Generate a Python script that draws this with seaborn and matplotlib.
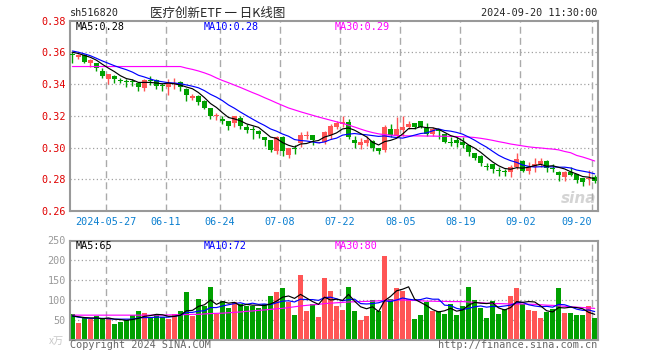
import matplotlib
matplotlib.use('Agg')
import numpy as np
import matplotlib.pyplot as plt
import seaborn as sns

# ---- data (sh516820, 2024-05-17 .. 2024-09-20) ----
tick_idx = [6, 16, 25, 35, 45, 55, 65, 75, 87]
tick_labels = ['2024-05-27', '06-11', '06-24', '07-08', '07-22',
               '08-05', '08-19', '09-02', '09-20']

opens = [0.358, 0.357, 0.358, 0.3535, 0.353, 0.348, 0.343, 0.345, 0.3425, 0.342,
         0.3415, 0.3406, 0.3375, 0.3425, 0.3425, 0.339, 0.3381, 0.3402, 0.341, 0.337,
         0.3313, 0.3327, 0.3296, 0.3246, 0.320, 0.318, 0.3167, 0.3153, 0.3184, 0.3132,
         0.311, 0.3105, 0.3063, 0.3046, 0.2979, 0.3065, 0.2952, 0.2992, 0.3031, 0.3075,
         0.3077, 0.3029, 0.3033, 0.3077, 0.3128, 0.3146, 0.3163, 0.3046, 0.3018, 0.3029,
         0.3042, 0.2998, 0.2982, 0.3115, 0.3072, 0.3108, 0.3132, 0.3152, 0.3165, 0.3125,
         0.3088, 0.3108, 0.3083, 0.3033, 0.3046, 0.3035, 0.3015, 0.2965, 0.2948, 0.2881,
         0.2896, 0.2852, 0.2846, 0.2848, 0.2879, 0.2913, 0.285, 0.2875, 0.2896, 0.2917,
         0.2867, 0.2848, 0.2817, 0.2848, 0.2833, 0.2806, 0.2800, 0.2815]
highs = [0.360, 0.359, 0.359, 0.356, 0.3535, 0.350, 0.3465, 0.3456, 0.344, 0.343,
         0.343, 0.341, 0.343, 0.345, 0.3433, 0.3406, 0.343, 0.344, 0.3417, 0.3375,
         0.3334, 0.3333, 0.330, 0.325, 0.3219, 0.320, 0.317, 0.320, 0.320, 0.315,
         0.3136, 0.311, 0.3065, 0.305, 0.3075, 0.307, 0.300, 0.3015, 0.3098, 0.3104,
         0.308, 0.3035, 0.3104, 0.3146, 0.3167, 0.3198, 0.3177, 0.3073, 0.3058, 0.3073,
         0.305, 0.300, 0.314, 0.3146, 0.319, 0.3196, 0.317, 0.3155, 0.317, 0.3152,
         0.3131, 0.3119, 0.3085, 0.3063, 0.3063, 0.3063, 0.3017, 0.2967, 0.295, 0.2902,
         0.2898, 0.2875, 0.2865, 0.289, 0.2965, 0.292, 0.2906, 0.2931, 0.2931, 0.2919,
         0.2896, 0.285, 0.285, 0.2875, 0.2835, 0.2808, 0.2856, 0.2825]
lows = [0.353, 0.356, 0.353, 0.351, 0.348, 0.344, 0.340, 0.3406, 0.3405, 0.338,
        0.339, 0.3354, 0.3358, 0.3396, 0.337, 0.3354, 0.333, 0.337, 0.3354, 0.329,
        0.330, 0.327, 0.324, 0.3177, 0.3173, 0.3147, 0.3109, 0.3126, 0.3115, 0.3094,
        0.3052, 0.3057, 0.3012, 0.2969, 0.2958, 0.2948, 0.2931, 0.2958, 0.3003, 0.3052,
        0.3015, 0.3026, 0.302, 0.3052, 0.3115, 0.3131, 0.3052, 0.300, 0.299, 0.301,
        0.2979, 0.2958, 0.2973, 0.3063, 0.3063, 0.3073, 0.3119, 0.3115, 0.312, 0.3073,
        0.3073, 0.3056, 0.3027, 0.301, 0.3006, 0.300, 0.2944, 0.2923, 0.2881, 0.286,
        0.284, 0.2823, 0.2819, 0.2813, 0.2865, 0.2844, 0.2833, 0.2848, 0.2875, 0.2848,
        0.2844, 0.2792, 0.2792, 0.2819, 0.2775, 0.276, 0.2763, 0.2777]
closes = [0.358, 0.358, 0.354, 0.355, 0.350, 0.345, 0.346, 0.343, 0.342, 0.341,
          0.341, 0.338, 0.3427, 0.342, 0.339, 0.3385, 0.3406, 0.3406, 0.338, 0.333,
          0.3327, 0.3285, 0.3246, 0.3198, 0.3202, 0.3165, 0.3136, 0.3199, 0.3136, 0.311,
          0.3108, 0.3084, 0.3046, 0.2983, 0.3063, 0.2979, 0.300, 0.299, 0.3077, 0.3079,
          0.3046, 0.3032, 0.3098, 0.3135, 0.3154, 0.3163, 0.3063, 0.3029, 0.3034, 0.305,
          0.2997, 0.2979, 0.3131, 0.3078, 0.3114, 0.3127, 0.3151, 0.3131, 0.3131, 0.3088,
          0.3119, 0.3104, 0.3035, 0.3031, 0.3031, 0.3015, 0.2969, 0.2933, 0.290, 0.2879,
          0.2865, 0.285, 0.2844, 0.2879, 0.2927, 0.285, 0.2879, 0.2896, 0.2917, 0.2869,
          0.2865, 0.2827, 0.2848, 0.2827, 0.2798, 0.2785, 0.2806, 0.2792]

ma5 = [0.360, 0.3592, 0.358, 0.3568, 0.355, 0.3524, 0.350, 0.3478, 0.3452, 0.3434,
       0.3426, 0.341, 0.341, 0.341, 0.3406, 0.3401, 0.3406, 0.3401, 0.3393, 0.3381,
       0.337, 0.3346, 0.3314, 0.3277, 0.3252, 0.3219, 0.3189, 0.318, 0.3168, 0.3149,
       0.3138, 0.3127, 0.3097, 0.3066, 0.3057, 0.3031, 0.3014, 0.3003, 0.3022, 0.3025,
       0.3038, 0.3044, 0.3066, 0.3077, 0.3092, 0.3117, 0.3123, 0.3109, 0.3088, 0.3067,
       0.3033, 0.3016, 0.3037, 0.3045, 0.3058, 0.3085, 0.3119, 0.3119, 0.3131, 0.3125,
       0.3124, 0.3115, 0.3095, 0.3075, 0.3064, 0.3043, 0.3016, 0.2996, 0.297, 0.2939,
       0.2909, 0.2885, 0.2868, 0.2863, 0.2873, 0.287, 0.2876, 0.2886, 0.2894, 0.2882,
       0.2885, 0.2875, 0.2865, 0.2847, 0.2833, 0.2817, 0.2813, 0.2802]
ma10 = [0.3608, 0.360, 0.359, 0.3578, 0.3562, 0.3545, 0.353, 0.3515, 0.3502, 0.349,
        0.3475, 0.3455, 0.3444, 0.3431, 0.342, 0.3414, 0.3408, 0.3406, 0.3402, 0.3394,
        0.3386, 0.3376, 0.3358, 0.3335, 0.3317, 0.3295, 0.3268, 0.3247, 0.3223, 0.3201,
        0.3179, 0.3158, 0.3139, 0.3117, 0.3103, 0.3085, 0.3071, 0.305, 0.3044, 0.3041,
        0.3035, 0.3029, 0.3035, 0.305, 0.3059, 0.3078, 0.3084, 0.3088, 0.3083, 0.308,
        0.3075, 0.307, 0.3073, 0.3067, 0.3063, 0.3059, 0.3068, 0.3078, 0.3088, 0.3092,
        0.3105, 0.3117, 0.3107, 0.3103, 0.3095, 0.3084, 0.3066, 0.3046, 0.3023, 0.3002,
        0.2976, 0.2951, 0.2932, 0.2917, 0.2906, 0.289, 0.2881, 0.2877, 0.2879, 0.2878,
        0.2878, 0.2876, 0.2876, 0.2871, 0.2858, 0.2851, 0.2844, 0.2834]
ma30 = [0.351] * 19 + [
        0.350, 0.3492, 0.3482, 0.347, 0.3456, 0.3438, 0.3422, 0.3408, 0.3393, 0.3378,
        0.3362, 0.3346, 0.3331, 0.3314, 0.3298, 0.3281, 0.3265, 0.3249, 0.3237, 0.3225,
        0.3214, 0.3203, 0.3192, 0.3182, 0.3172, 0.3162, 0.3152, 0.3141, 0.3129, 0.3116,
        0.3104, 0.3094, 0.3086, 0.3081, 0.3078, 0.3076, 0.3074, 0.3073, 0.3073, 0.3073,
        0.3072, 0.3072, 0.3071, 0.3071, 0.307, 0.3069, 0.3068, 0.3066, 0.3063, 0.3058,
        0.3052, 0.3045, 0.3037, 0.303, 0.3022, 0.3016, 0.301, 0.3004, 0.300, 0.2997,
        0.2993, 0.299, 0.2985, 0.2975, 0.2967, 0.295, 0.294, 0.2928, 0.2915]

volumes = [66, 44, 55, 53, 61, 55, 57, 41, 47, 51,
           63, 73, 68, 57, 63, 59, 53, 66, 73, 121,
           62, 103, 86, 133, 65, 98, 82, 95, 91, 86,
           86, 82, 92, 111, 121, 132, 97, 63, 163, 73,
           90, 59, 157, 124, 86, 76, 133, 73, 51, 61,
           101, 73, 211, 103, 131, 123, 103, 53, 63, 95,
           73, 73, 66, 91, 63, 86, 133, 101, 82, 57,
           98, 66, 78, 111, 131, 91, 76, 73, 57, 71,
           78, 131, 68, 68, 63, 63, 86, 56]
vol_ma5 = [61, 59, 57, 56, 56, 54, 56, 53, 52, 50,
           52, 55, 60, 62, 65, 64, 60, 60, 63, 74,
           75, 85, 89, 101, 90, 97, 93, 95, 86, 90,
           88, 88, 87, 91, 98, 108, 111, 105, 115, 106,
           97, 90, 108, 101, 103, 100, 115, 98, 84, 79,
           84, 72, 99, 110, 124, 128, 134, 103, 95, 87,
           77, 71, 74, 80, 73, 76, 88, 95, 93, 92,
           94, 81, 76, 82, 97, 95, 97, 96, 86, 74,
           71, 82, 81, 83, 82, 79, 70, 65]
vol_ma10 = [61, 58, 56, 55, 55, 55, 54, 53, 53, 53,
            53, 56, 57, 57, 58, 58, 58, 60, 63, 70,
            70, 73, 74, 82, 82, 86, 89, 92, 94, 90,
            93, 90, 91, 89, 94, 98, 99, 96, 103, 102,
            102, 100, 107, 108, 104, 99, 102, 103, 92, 91,
            92, 94, 99, 97, 101, 106, 103, 101, 102, 106,
            103, 103, 88, 87, 80, 77, 80, 84, 86, 83,
            85, 84, 86, 88, 94, 95, 89, 86, 84, 85,
            83, 90, 89, 84, 78, 75, 76, 72]
vol_ma30 = [63] * 16 + [
            63.5, 64, 64, 64.5, 65, 65, 66, 67, 67.5, 68,
            69, 70, 71, 72.5, 73.5, 75, 76, 77.5, 79, 80,
            82, 84, 86, 87.5, 89, 90, 92, 93, 94, 95,
            96, 96.5, 97, 97.5, 98, 99, 100, 100.5, 101, 101,
            100.5, 100, 99, 98, 98, 97.5, 97.5, 97, 97, 97,
            96, 95, 94, 93, 92, 92, 91.5, 91, 91, 91,
            90.5, 90, 89, 88, 87.5, 86.5, 85, 84, 83, 82, 81, 80]

UP = '#ff5555'
DOWN = '#00a000'
GRID = '#a0a0a0'
MONO = 'DejaVu Sans Mono'
CJK = ['Noto Sans CJK SC', 'DejaVu Sans']


def style_panel(ax, yticks, ylabels, label_color):
    for sp in ax.spines.values():
        sp.set_color('#999999')
        sp.set_linewidth(1.5)
    ax.set_xlim(-0.4, 87.55)
    ax.set_yticks(yticks)
    ax.set_yticklabels(ylabels, color=label_color, family=MONO, fontsize=7.3)
    ax.tick_params(axis='y', length=0, pad=3)
    for v in yticks[1:-1]:
        ax.axhline(v, color=GRID, lw=0.9, ls=(0, (1, 2)), zorder=1)
    for t in tick_idx:
        ax.axvline(t - 0.4, color='#aaaaaa', lw=1, ls=(0, (5, 3)), zorder=1)


def main():
    sns.set_style('white')
    plt.rcParams['font.family'] = [MONO, 'Noto Sans CJK SC']

    fig = plt.figure(figsize=(6.6, 3.6), dpi=100)
    ax = fig.add_axes([70 / 660, 1 - 211 / 360, 528 / 660, 190.5 / 360])
    axv = fig.add_axes([70 / 660, 1 - 340.3 / 360, 528 / 660, 99.8 / 360])

    x = np.arange(len(closes))
    cols = [UP if c > o else DOWN for o, c in zip(opens, closes)]

    # price panel
    style_panel(ax, [0.26, 0.28, 0.30, 0.32, 0.34, 0.36, 0.38],
                ['0.26', '0.28', '0.30', '0.32', '0.34', '0.36', '0.38'], '#e00000')
    ax.set_ylim(0.26, 0.38)
    ax.vlines(x, lows, highs, colors=cols, lw=1, zorder=2)
    bottoms = [min(o, c) for o, c in zip(opens, closes)]
    heights = [max(abs(c - o), 0.0006) for o, c in zip(opens, closes)]
    ax.bar(x, heights, bottom=bottoms, width=0.78, color=cols, lw=0, zorder=3)
    for vals, col in [(ma30, '#ff00ff'), (ma10, '#0000ff'), (ma5, '#000000')]:
        sns.lineplot(x=x, y=vals, ax=ax, color=col, lw=0.85, estimator=None,
                     legend=False, zorder=4)
    ax.set_xticks([t - 0.4 for t in tick_idx])
    ax.set_xticklabels(tick_labels, color='#0a7fd0', family=MONO, fontsize=7.3)
    ax.get_xticklabels()[-1].set_ha('right')
    ax.tick_params(axis='x', length=0, pad=4)
    ax.set_xlabel('')
    ax.set_ylabel('')
    ax.text(0.01, 0.965, 'MA5:0.28', transform=ax.transAxes, color='black',
            fontsize=7.3, va='center')
    ax.text(0.254, 0.965, 'MA10:0.28', transform=ax.transAxes, color='#0000ff',
            fontsize=7.3, va='center')
    ax.text(0.502, 0.965, 'MA30:0.29', transform=ax.transAxes, color='#ff00ff',
            fontsize=7.3, va='center')
    ax.text(0.997, 0.025, 'sina', transform=ax.transAxes, color='#d4d4d4',
            fontsize=11, fontweight='bold', style='italic', family='DejaVu Sans',
            ha='right', va='bottom', zorder=0)

    # volume panel
    style_panel(axv, [0, 50, 100, 150, 200, 250],
                ['', '50', '100', '150', '200', '250'], '#999999')
    axv.set_ylim(0, 250)
    axv.bar(x, volumes, width=0.78, color=cols, lw=0, zorder=2)
    for vals, col in [(vol_ma30, '#ff00ff'), (vol_ma10, '#0000ff'), (vol_ma5, '#000000')]:
        sns.lineplot(x=x, y=vals, ax=axv, color=col, lw=0.85, estimator=None,
                     legend=False, zorder=4)
    axv.set_xticks([])
    axv.set_xlabel('')
    axv.set_ylabel('')
    axv.text(0.01, 0.94, 'MA5:65', transform=axv.transAxes, color='black',
             fontsize=7.3, va='center')
    axv.text(0.254, 0.94, 'MA10:72', transform=axv.transAxes, color='#0000ff',
             fontsize=7.3, va='center')
    axv.text(0.502, 0.94, 'MA30:80', transform=axv.transAxes, color='#ff00ff',
             fontsize=7.3, va='center')

    # header / footer
    fig.text(70 / 660, 1 - 13 / 360, 'sh516820', fontsize=7.3, va='center')
    fig.text(150 / 660, 1 - 13 / 360, '医疗创新ETF 一 日K线图', fontsize=9,
             family=CJK, va='center')
    fig.text(597 / 660, 1 - 13 / 360, '2024-09-20 11:30:00', fontsize=7.3,
             ha='right', va='center')
    fig.text(49 / 660, 1 - 341 / 360, 'x万', fontsize=7.3, color='#c8c8c8',
             family=CJK, va='center')
    fig.text(70 / 660, 1 - 345.5 / 360, 'Copyright 2024 SINA.COM', fontsize=7.3,
             color='#666666', va='center')
    fig.text(597 / 660, 1 - 345.5 / 360, 'http://finance.sina.com.cn', fontsize=7.3,
             color='#666666', ha='right', va='center')

    fig.savefig('out.png', dpi=100)


if __name__ == '__main__':
    main()
